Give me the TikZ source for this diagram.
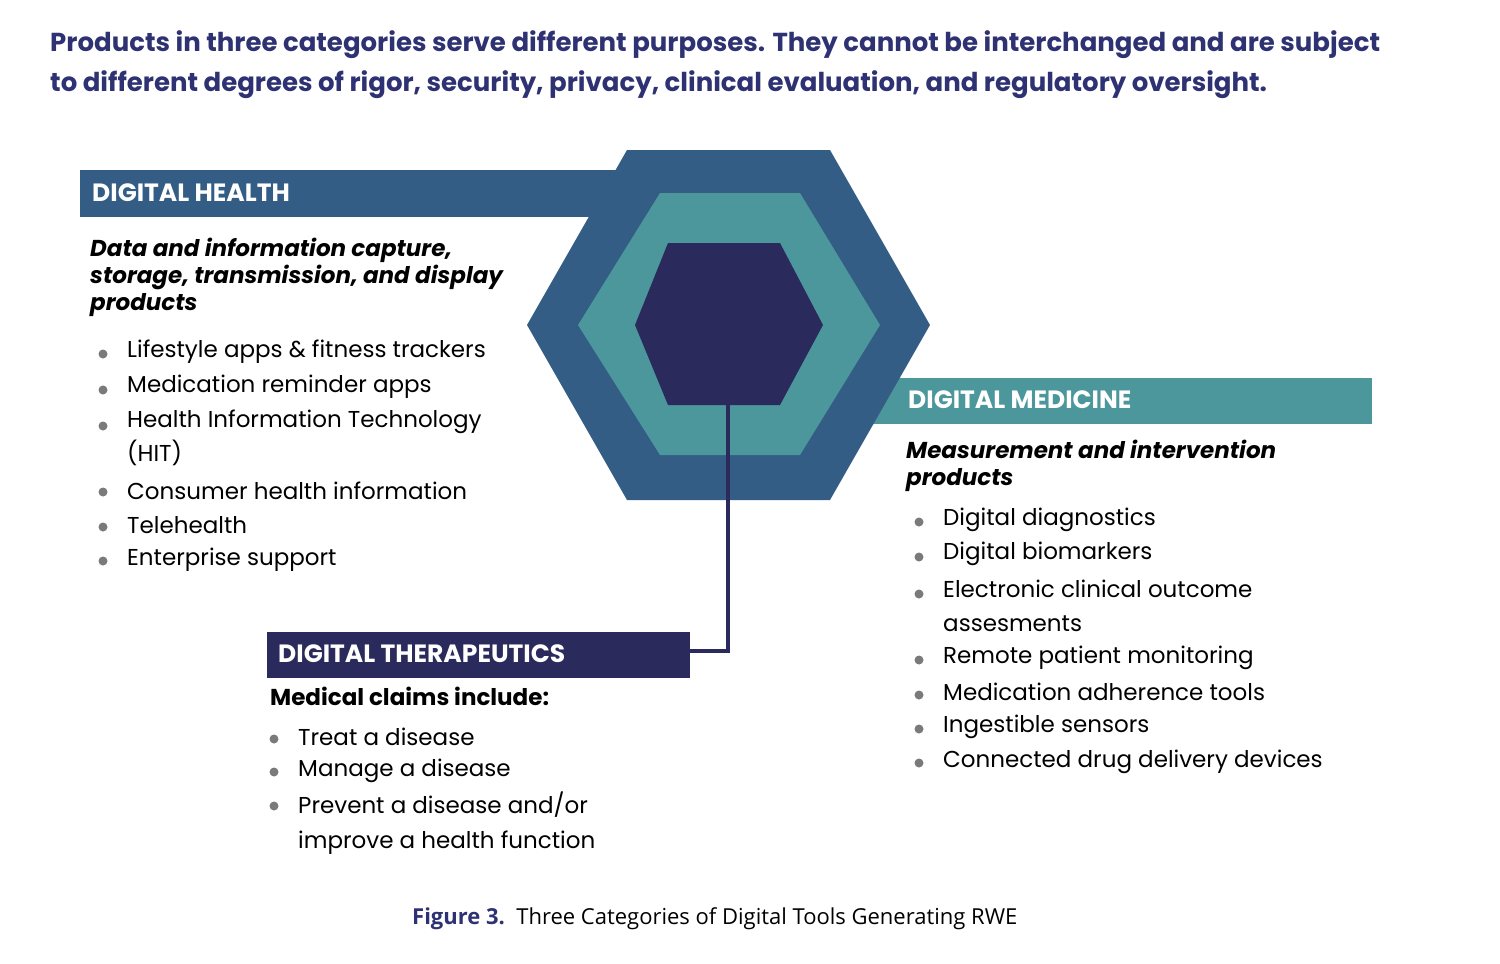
\documentclass[tikz,border=0pt]{standalone}
\usepackage{fontspec}
\setmainfont{Poppins}
\newfontfamily\capfont{Open Sans}
\usetikzlibrary{positioning}
\definecolor{navy}{HTML}{2A2B5C}
\definecolor{steel}{HTML}{335D84}
\definecolor{teal}{HTML}{4C979C}
\definecolor{titleblue}{HTML}{2E3272}
\definecolor{dotgray}{HTML}{7A7A7A}
\tikzset{
  bar/.style={inner sep=0pt, text=white, font=\fontsize{25}{28}\selectfont\bfseries, anchor=west},
  subhead/.style={anchor=north west, inner sep=0pt, align=left, font=\fontsize{23}{27}\selectfont\bfseries\itshape},
  item/.style={anchor=west, inner sep=0pt, align=left, font=\fontsize{23}{34.5}\selectfont},
  dot/.style={circle, fill=dotgray, inner sep=0pt, minimum size=9pt}
}
\begin{document}
\begin{tikzpicture}[x=1pt, y=-1pt]
\useasboundingbox (0,0) rectangle (1500,964);
% title
\node[anchor=north west, inner sep=0pt, align=left, text=titleblue,
  font=\fontsize{26}{40}\selectfont\bfseries] (title) at (50,30)
  {Products in three categories serve different purposes. They cannot be interchanged and are subject\\
   to different degrees of rigor, security, privacy, clinical evaluation, and regulatory oversight.};
% bars
\fill[steel] (80,170) rectangle (620,217);
\fill[teal] (850,378) rectangle (1372,424);
\fill[navy] (267,632) rectangle (690,678);
% hexagons
\fill[steel] (627,150) -- (830,150) -- (930,325) -- (830,500) -- (627,500) -- (527,325) -- cycle;
\fill[teal] (660,193) -- (800,193) -- (880,325) -- (800,455) -- (660,455) -- (578,325) -- cycle;
\fill[navy] (668,243) -- (780,243) -- (823,325) -- (780,405) -- (668,405) -- (635,325) -- cycle;
\coordinate (hexbot) at (728,405);
\coordinate (therend) at (690,651);
\draw[navy, line width=4pt] (hexbot) |- (therend);
% bar labels
\node[bar] (health) at (92,193) {DIGITAL HEALTH};
\node[bar] (medicine) at (908,400) {DIGITAL MEDICINE};
\node[bar] (therapeutics) at (278,654) {DIGITAL THERAPEUTICS};
% sub headings
\node[subhead] (healthsub) at (90,238) {Data and information capture,\\storage, transmission, and display\\products};
\node[subhead] (medsub) at (906,440) {Measurement and intervention\\products};
\node[subhead, font=\fontsize{23}{27}\selectfont\bfseries] (thersub) at (270,687) {Medical claims include:};
% items
\foreach \t/\y [count=\i] in {Lifestyle apps \& fitness trackers/352, Medication reminder apps/387,
  {Health Information Technology\\(HIT)}/438, Consumer health information/491, Telehealth/525, Enterprise support/560}
  {\node[item] (h\i) at (127,\y) {\t};}
\foreach \y [count=\i] in {354,390,426,492,527,561} {\node[dot] (hd\i) at (103,\y) {};}
\foreach \t/\y [count=\i] in {Digital diagnostics/520, Digital biomarkers/554,
  {Electronic clinical outcome\\assesments}/606, Remote patient monitoring/658, Medication adherence tools/692,
  Ingestible sensors/727, Connected drug delivery devices/762}
  {\node[item] (m\i) at (943,\y) {\t};}
\foreach \y [count=\i] in {522,557,594,660,695,729,763} {\node[dot] (md\i) at (919,\y) {};}
\foreach \t/\y [count=\i] in {Treat a disease/737, Manage a disease/771,
  {Prevent a disease and/or\\improve a health function}/823}
  {\node[item] (t\i) at (298,\y) {\t};}
\foreach \y [count=\i] in {739,772,806} {\node[dot] (td\i) at (274,\y) {};}
% caption
\node[anchor=west, inner sep=0pt, font=\capfont\fontsize{22}{26}\selectfont] (caption) at (412,919)
  {\textcolor{titleblue}{\bfseries Figure 3.}\ \ Three Categories of Digital Tools Generating RWE};
\end{tikzpicture}
\end{document}
